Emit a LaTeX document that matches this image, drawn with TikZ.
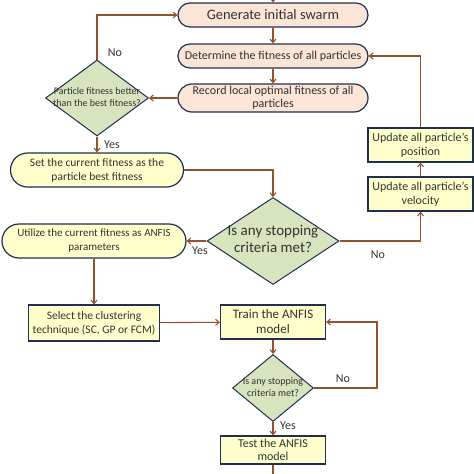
\documentclass[tikz,border=0pt]{standalone}
\usepackage{fontspec}
\setmainfont{Carlito}
\usetikzlibrary{shapes.geometric, arrows.meta}

\definecolor{peach}{HTML}{FBE5D6}
\definecolor{paleyellow}{HTML}{FFFFCC}
\definecolor{palegreen}{HTML}{D7E4BD}
\definecolor{navy}{HTML}{1F2F4F}
\definecolor{rust}{HTML}{94512F}
\definecolor{ink}{HTML}{333333}

% text inside a diamond, kept out of the shape's size
\newcommand{\dtext}[1]{\makebox[0pt]{\begin{tabular}{@{}c@{}}#1\end{tabular}}}
\newcommand{\fs}[2]{\fontsize{#1}{#2}\selectfont}

\begin{document}
\begin{tikzpicture}[x=1pt, y=-1pt,
    pill/.style={rectangle, rounded corners=#1, draw=navy, line width=1.2pt,
        inner sep=0pt, align=center, text=ink},
    box/.style={rectangle, draw=navy, line width=1.2pt, fill=paleyellow,
        inner sep=0pt, align=center, text=ink},
    decision/.style={diamond, draw=navy, line width=1pt, fill=palegreen,
        inner sep=0pt, text=ink},
    flow/.style={draw=rust, line width=1.1pt, -{Straight Barb[length=3.5pt, width=6pt]}},
    tag/.style={font=\fs{12}{14}, text=ink}]
    \useasboundingbox (0,0) rectangle (474,474);

    % PSO part
    \node[pill=12pt, fill=peach, minimum width=190pt, minimum height=24pt, font=\fs{14.4}{16}]
        (gen) at (273,15) {Generate initial swarm};
    \node[pill=12pt, fill=peach, minimum width=190pt, minimum height=24pt, font=\fs{12}{14}]
        (det) at (273,56) {Determine the fitness of all particles};
    \node[pill=14pt, fill=peach, minimum width=190pt, minimum height=28pt, font=\fs{12}{13.5}]
        (rec) at (273,98) {Record local optimal fitness of all\\particles};
    \node[decision, minimum width=103pt, minimum height=76pt, font=\fs{10}{12}]
        (d1) at (97,98) {\dtext{Particle fitness better\\than the best fitness?}};
    \node[pill=17pt, fill=paleyellow, minimum width=173pt, minimum height=34pt, font=\fs{11.5}{14}]
        (set) at (97,170) {Set the current fitness as the\\particle best fitness};
    \node[decision, minimum width=132pt, minimum height=87pt, font=\fs{15}{17}]
        (d2) at (273,241) {\dtext{Is any stopping\\criteria met?}};
    \node[box, minimum width=105pt, minimum height=34pt, font=\fs{12}{14}]
        (pos) at (420.5,145) {Update all particle's\\position};
    \node[box, minimum width=105pt, minimum height=34pt, font=\fs{12}{14}]
        (vel) at (420.5,194) {Update all particle's\\velocity};

    % ANFIS part
    \node[pill=17pt, fill=paleyellow, minimum width=184pt, minimum height=34pt, font=\fs{11}{14}]
        (util) at (94,241) {Utilize the current fitness as ANFIS\\parameters};
    \node[box, minimum width=131pt, minimum height=36pt, font=\fs{11.5}{14}]
        (sel) at (94,323) {Select the clustering\\technique (SC, GP or FCM)};
    \node[box, minimum width=105pt, minimum height=34pt, font=\fs{13}{15}]
        (train) at (273,322) {Train the ANFIS\\model};
    \node[decision, minimum width=81pt, minimum height=67pt, font=\fs{10}{12}]
        (d3) at (273,388) {\dtext{Is any stopping\\criteria met?}};
    \node[box, minimum width=105pt, minimum height=28pt, font=\fs{12}{13}]
        (test) at (273,450) {Test the ANFIS\\model};

    \coordinate (in) at (273,0);
    \coordinate (out) at (273,474);

    % Connectors
    \draw[flow] (in) -- (gen);
    \draw[flow] (gen) -- (det);
    \draw[flow] (det) -- (rec);
    \draw[flow] (rec) -- (d1);
    \draw[flow] (d1.north) |- (gen.west);
    \draw[flow] (d1) -- (set);
    \draw[flow] (set.east) -| (d2.north);
    \draw[flow] (d2) -- (util);
    \draw[flow] (d2.east) -| (vel.south);
    \draw[flow] (vel) -- (pos);
    \draw[flow] (pos.north) |- (det.east);
    \draw[flow] (util) -- (sel);
    \draw[flow] (sel) -- (train);
    \draw[flow] (train) -- (d3);
    \draw[flow] (d3.east) -- ++(63,0) |- (train.east);
    \draw[flow] (d3) -- (test);
    \draw[draw=rust, line width=1.1pt] (test) -- (out);

    % Labels
    \node[tag] (no1) at (115,53) {No};
    \node[tag] (yes1) at (112,145) {Yes};
    \node[tag] (yes2) at (200,251) {Yes};
    \node[tag] (no2) at (378,255) {No};
    \node[tag] (no3) at (343,379) {No};
    \node[tag] (yes3) at (288,426) {Yes};
\end{tikzpicture}
\end{document}
